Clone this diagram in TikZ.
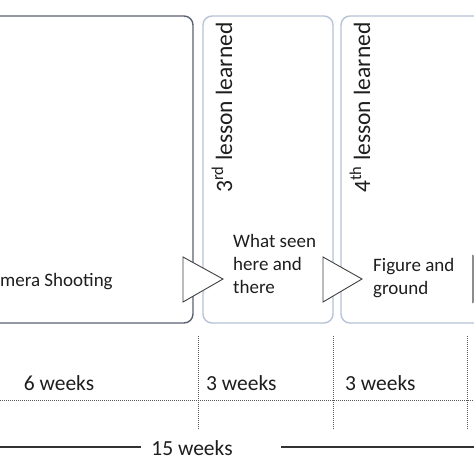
\documentclass[tikz,border=0pt]{standalone}
\usepackage{fontspec}
\setmainfont{Carlito}
\definecolor{darkframe}{HTML}{5A6272}
\definecolor{lightframe}{HTML}{B7C3D6}
\definecolor{inkgray}{HTML}{1E1E1E}
\begin{document}
\begin{tikzpicture}[x=1pt, y=-1pt, every node/.style={text=inkgray},
	phasebox/.style={draw=#1, line width=1.4pt, rounded corners=9pt},
	steptri/.style={draw=black!75, fill=white, line width=0.9pt},
	gridline/.style={draw=black!65, line width=0.9pt, dash pattern=on 1pt off 1pt},
	boxtext/.style={inner sep=0pt, anchor=west, align=left, font=\fontsize{19}{23}\selectfont},
	lessontext/.style={inner sep=0pt, rotate=90, anchor=west, font=\fontsize{23.5}{28}\selectfont},
	weektext/.style={inner sep=0pt, font=\fontsize{21.5}{25}\selectfont}]

	\clip (0,0) rectangle (474,474);
	\fill [white] (0,0) rectangle (474,474);

	% phases
	\draw [phasebox=darkframe] (-30,16) rectangle (193,323);
	\draw [phasebox=lightframe] (203,16) rectangle (333,323);
	\draw [phasebox=lightframe] (341,16) rectangle (520,323);

	\node[lessontext] (lesson3) at (222,193) {3\textsuperscript{rd} lesson learned};
	\node[lessontext] (lesson4) at (360,193) {4\textsuperscript{th} lesson learned};

	\node[boxtext] (shoot) at (0,282) {mera Shooting};
	\node[boxtext] (seen) at (233,264) {What seen\\here and\\there};
	\node[boxtext] (figure) at (373,278.5) {Figure and\\ground};

	% steps
	\filldraw [steptri] (183,257) -- (223,279) -- (183,302) -- cycle;
	\filldraw [steptri] (323,257) -- (362,279) -- (323,302) -- cycle;
	\filldraw [steptri, draw=black!45, line width=1.6pt] (473,256) -- (513,279) -- (473,302) -- cycle;

	% time line
	\draw [gridline] (0,400) -- (474,400);
	\foreach \x in {198,333,467}
		\draw [gridline] (\x,336) -- (\x,430);

	\node[weektext] (w6) at (59,383) {6 weeks};
	\node[weektext, anchor=west] (w3a) at (206,383) {3 weeks};
	\node[weektext, anchor=west] (w3b) at (345,383) {3 weeks};

	\node[weektext] (total) at (192,448) {15 weeks};
	\coordinate (tl) at (0,447);
	\coordinate (tr) at (474,447);
	\draw [black!80, line width=1.1pt] (tl) -- (141,447);
	\draw [black!80, line width=1.1pt] (281,447) -- (tr);

\end{tikzpicture}
\end{document}
